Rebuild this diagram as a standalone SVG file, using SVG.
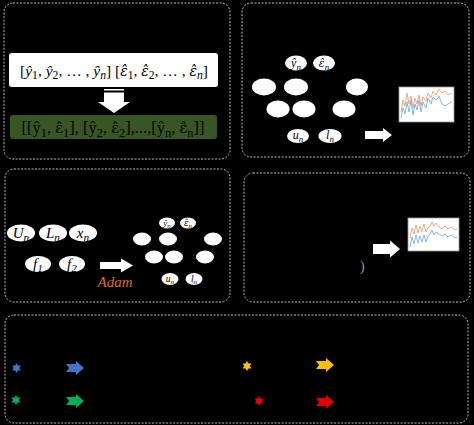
<svg xmlns="http://www.w3.org/2000/svg" width="474" height="425" viewBox="0 0 474 425">
<style>
.panel{fill:none;stroke:#bdbdbd;stroke-width:1;stroke-dasharray:2 1.5}
.node{fill:#ffffff}
.m{font-family:"Liberation Serif","DejaVu Serif",serif;fill:#000}
.i{font-style:italic}
.e{font-family:"DejaVu Serif",serif}
.sub{font-size:75%;baseline-shift:-0.3em}
.lbl{font-family:"Liberation Serif","DejaVu Serif",serif;font-style:italic;fill:#000;text-anchor:middle}
.warrow{fill:#ffffff}
.chart{fill:#ffffff;stroke:#9a9a9a;stroke-width:0.8}
.orange{fill:none;stroke:#f0a070;stroke-width:0.9}
.blue{fill:none;stroke:#7aaee0;stroke-width:0.9}
</style>
<defs>
<path id="star" d="M0,-5 L4.33,2.5 L-4.33,2.5 Z M0,5 L-4.33,-2.5 L4.33,-2.5 Z"/>
<path id="carrow" d="M0,-4 H10 V-7 L18,0 L10,7 V4 H0 L3,0 Z"/>
</defs>
<rect width="474" height="425" fill="#000"/>

<!-- panels -->
<g id="panels">
<rect class="panel" x="4" y="3" width="226" height="156" rx="9"/>
<rect class="panel" x="242" y="3" width="227" height="154" rx="9"/>
<rect class="panel" x="5" y="169" width="225" height="133" rx="9"/>
<rect class="panel" x="244" y="173" width="226" height="129" rx="9"/>
<rect class="panel" x="5" y="315" width="463" height="108" rx="9"/>
</g>

<!-- panel 1 -->
<g id="node-predictions">
<rect x="9" y="53" width="209" height="34" rx="3" fill="#ffffff"/>
<text class="m" x="114" y="76" text-anchor="middle" font-size="15.5">[<tspan class="i">ŷ</tspan><tspan class="sub">1</tspan>, <tspan class="i">ŷ</tspan><tspan class="sub">2</tspan>, … , <tspan class="i">ŷ</tspan><tspan class="sub i">n</tspan>]  [<tspan class="i e" font-size="14">ε̂</tspan><tspan class="sub">1</tspan>, <tspan class="i e" font-size="14">ε̂</tspan><tspan class="sub">2</tspan>, … , <tspan class="i e" font-size="14">ε̂</tspan><tspan class="sub i">n</tspan>]</text>
</g>
<g id="node-pairs">
<rect x="10" y="115" width="207" height="24" rx="3" fill="#375623"/>
<text class="m" x="113" y="133" text-anchor="middle" font-size="16.5">[[ŷ<tspan class="sub">1</tspan>, <tspan class="e" font-size="15">ε̂</tspan><tspan class="sub">1</tspan>], [ŷ<tspan class="sub">2</tspan>, <tspan class="e" font-size="15">ε̂</tspan><tspan class="sub">2</tspan>],...,[ŷ<tspan class="sub">n</tspan>, <tspan class="e" font-size="15">ε̂</tspan><tspan class="sub">n</tspan>]]</text>
</g>

<!-- panel 2 network -->
<g id="net-large">
<g id="n2-yhat"><ellipse class="node" cx="296" cy="63" rx="11" ry="7.5"/><text class="lbl" x="296" y="67" font-size="12">ŷ<tspan class="sub">n</tspan></text></g>
<g id="n2-ehat"><ellipse class="node" cx="324" cy="63" rx="11" ry="7.5"/><text class="lbl" x="324" y="67" font-size="12"><tspan class="e" font-size="11">ε̂</tspan><tspan class="sub">n</tspan></text></g>
<g id="n2-h1"><ellipse class="node" cx="264" cy="87" rx="12" ry="8.5"/></g>
<g id="n2-h2"><ellipse class="node" cx="296" cy="87" rx="12" ry="8.5"/></g>
<g id="n2-h3"><ellipse class="node" cx="357" cy="87" rx="11" ry="8.5"/></g>
<g id="n2-h4"><ellipse class="node" cx="278" cy="109" rx="11.5" ry="8.5"/></g>
<g id="n2-h5"><ellipse class="node" cx="304" cy="109" rx="11.5" ry="8.5"/></g>
<g id="n2-h6"><ellipse class="node" cx="344" cy="109" rx="11.5" ry="8.5"/></g>
<g id="n2-u"><ellipse class="node" cx="298" cy="136" rx="11" ry="7"/><text class="lbl" x="298" y="139" font-size="12">u<tspan class="sub">n</tspan></text></g>
<g id="n2-l"><ellipse class="node" cx="330" cy="136" rx="11.5" ry="7"/><text class="lbl" x="330" y="139" font-size="12">l<tspan class="sub">n</tspan></text></g>
</g>
<g id="chart1">
<rect class="chart" x="399" y="87" width="55" height="35"/>
<polyline class="orange" points="401,112 403,100 405,106 407,93 409,104 411,96 413,108 415,98 417,104 419,95 421,106 423,97 426,101 428,93 431,98 433,91 436,95 439,89 442,93 445,91 448,95 452,93"/>
<polyline class="blue" points="401,118 403,108 405,114 407,102 409,112 411,100 413,115 415,104 417,110 419,100 421,112 423,102 426,108 428,98 431,104 433,97 436,100 439,96 442,104 445,106 448,104 452,102"/>
</g>

<!-- panel 3 -->
<g id="n3-U"><ellipse class="node" cx="21" cy="233" rx="14" ry="8.5"/><text class="lbl" x="21" y="238" font-size="15">U<tspan class="sub">n</tspan></text></g>
<g id="n3-L"><ellipse class="node" cx="53" cy="233" rx="14" ry="8.5"/><text class="lbl" x="53" y="238" font-size="15">L<tspan class="sub">n</tspan></text></g>
<g id="n3-x"><ellipse class="node" cx="83" cy="233" rx="14" ry="8.5"/><text class="lbl" x="83" y="238" font-size="15">x<tspan class="sub">n</tspan></text></g>
<g id="n3-f1"><ellipse class="node" cx="38" cy="264" rx="13" ry="8"/><text class="lbl" x="38" y="269" font-size="15">f<tspan class="sub">1</tspan></text></g>
<g id="n3-f2"><ellipse class="node" cx="72" cy="264" rx="13" ry="8"/><text class="lbl" x="72" y="269" font-size="15">f<tspan class="sub">2</tspan></text></g>
<text id="adam" x="115" y="287" text-anchor="middle" font-family="Liberation Serif, serif" font-style="italic" font-size="15" fill="#e46c0a">Adam</text>
<g id="net-small">
<g id="n3-yhat"><ellipse class="node" cx="167" cy="223" rx="8" ry="5.5"/><text class="lbl" x="167" y="226" font-size="9">ŷ<tspan class="sub">n</tspan></text></g>
<g id="n3-ehat"><ellipse class="node" cx="188" cy="223" rx="8" ry="5.5"/><text class="lbl" x="188" y="226" font-size="9"><tspan class="e" font-size="8.5">ε̂</tspan><tspan class="sub">n</tspan></text></g>
<g id="n3-h1"><ellipse class="node" cx="142" cy="239" rx="9" ry="6.5"/></g>
<g id="n3-h2"><ellipse class="node" cx="168" cy="239" rx="9" ry="6.5"/></g>
<g id="n3-h3"><ellipse class="node" cx="213" cy="239" rx="9" ry="6.5"/></g>
<g id="n3-h4"><ellipse class="node" cx="154" cy="257" rx="9" ry="6.5"/></g>
<g id="n3-h5"><ellipse class="node" cx="174" cy="257" rx="9" ry="6.5"/></g>
<g id="n3-h6"><ellipse class="node" cx="205" cy="257" rx="9" ry="6.5"/></g>
<g id="n3-u"><ellipse class="node" cx="170" cy="279" rx="8.5" ry="6"/><text class="lbl" x="170" y="282" font-size="9.5">u<tspan class="sub">n</tspan></text></g>
<g id="n3-l"><ellipse class="node" cx="194" cy="279" rx="8.5" ry="6"/><text class="lbl" x="194" y="282" font-size="9.5">l<tspan class="sub">n</tspan></text></g>
</g>

<!-- panel 4 -->
<g id="chart2">
<rect class="chart" x="408" y="218" width="51" height="33"/>
<polyline class="orange" points="410,238 412,228 414,234 416,225 418,233 420,226 422,232 424,224 426,232 428,228 430,226 432,222 434,226 436,223 439,227 442,229 445,226 448,229 451,227 455,230 457,229"/>
<polyline class="blue" points="410,247 412,237 414,244 416,235 418,243 420,236 422,242 424,235 426,242 428,236 430,234 432,230 434,235 436,232 439,234 442,236 445,234 448,237 451,235 455,238 457,237"/>
</g>
<text id="paren" x="360" y="271" font-family="Liberation Serif, serif" font-size="14" fill="#9a9a9a">)</text>

<!-- connectors / arrows -->
<g id="connectors">
<rect class="warrow" x="104" y="89" width="20" height="1.5"/>
<path class="warrow" d="M104,92.5 H124 V102 H130 L114,113 L98,102 H104 Z"/>
<path class="warrow" d="M365,131 H383 V128 L392,135 L383,142 V139 H365 Z"/>
<path class="warrow" d="M100,262 H121 V258.5 L133,265.5 L121,272.5 V269 H100 Z"/>
<path class="warrow" d="M373,244 H390 V240.5 L400,249 L390,257.5 V254 H373 Z"/>
</g>

<!-- legend -->
<g id="legend">
<use href="#star" x="16.5" y="368" fill="#4472c4"/>
<use href="#carrow" x="66" y="368" fill="#4472c4"/>
<use href="#star" x="16" y="400" fill="#00b050"/>
<use href="#carrow" x="66" y="401" fill="#00b050"/>
<use href="#star" x="247" y="366" fill="#ffc000"/>
<use href="#carrow" x="316" y="365" fill="#ffc000"/>
<use href="#star" x="259" y="401" fill="#e00000"/>
<use href="#carrow" x="316" y="402" fill="#e00000"/>
</g>
</svg>
